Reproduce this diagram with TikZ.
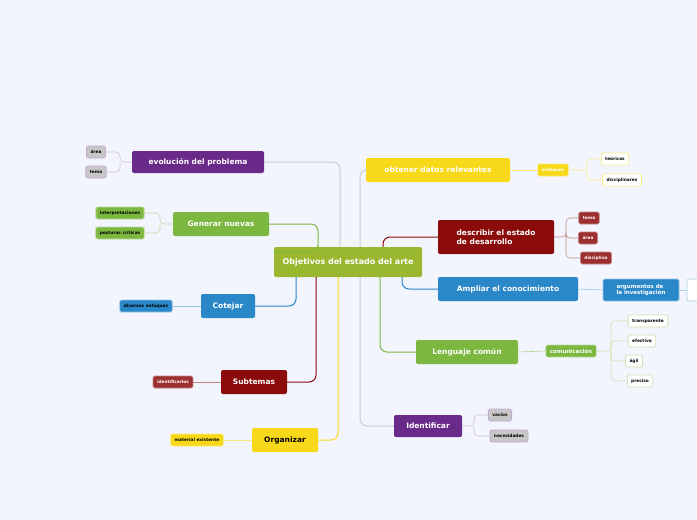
\documentclass[tikz,border=0pt]{standalone}
\usepackage{fontspec}
\setmainfont{DejaVu Sans}
\begin{document}
\begin{tikzpicture}[x=1pt,y=-1pt,
 main/.style={rounded corners=2pt,text=white,font=\bfseries\fontsize{7.5}{9}\selectfont,minimum height=24pt,inner xsep=6pt,drop shadow/.style={}},
 sm/.style={rounded corners=1.5pt,font=\bfseries\fontsize{4.3}{5}\selectfont,minimum height=12pt,inner xsep=4pt,line width=0.8pt},
 ln/.style={line width=1pt,rounded corners=7pt},
 lnt/.style={line width=0.6pt,rounded corners=4pt}]
\definecolor{bg}{HTML}{F2F5FE}
\definecolor{cyel}{HTML}{F8D91A}
\definecolor{cred}{HTML}{8B0A0A}
\definecolor{cblu}{HTML}{2A87C8}
\definecolor{cgrn}{HTML}{7CB740}
\definecolor{cpur}{HTML}{6A2A8A}
\definecolor{colv}{HTML}{9AB82F}
\fill[bg] (0,0) rectangle (697,520);
\useasboundingbox (0,0) rectangle (697,520);
% center
\node[fill=colv,rounded corners=2pt,text=white,font=\bfseries\fontsize{8}{9}\selectfont,minimum width=148pt,minimum height=30pt] (c) at (348,262) {Objetivos del estado del arte};
% right
\node[main,fill=cyel,minimum width=144pt] (obt) at (438,170) {obtener datos relevantes};
\node[sm,fill=cyel,text=white,draw=cyel!60] (enf) at (553,170) {enfoques};
\node[sm,fill=white,draw=cyel!50] (teo) at (615,159) {teóricos};
\node[sm,fill=white,draw=cyel!50] (dis) at (622,180) {disciplinares};
\node[main,fill=cred,minimum width=116pt,minimum height=34pt,align=left] (des) at (496,237) {describir el estado\\de desarrollo};
\node[sm,fill=cred!85,text=white,draw=cred!50] (t1) at (589,218) {tema};
\node[sm,fill=cred!85,text=white,draw=cred!50] (a1) at (588,238) {área};
\node[sm,fill=cred!85,text=white,draw=cred!50] (d1) at (596,258) {disciplina};
\node[main,fill=cblu,minimum width=140pt] (amp) at (508,289) {Ampliar el conocimiento};
\node[sm,fill=cblu,text=white,draw=cblu!50,minimum width=76pt,minimum height=22pt,align=left,font=\bfseries\fontsize{5.5}{6}\selectfont] (arg) at (641,290) {argumentos de\\la investigación};
\node[sm,fill=white,draw=cblu!40,minimum width=20pt,minimum height=22pt] (cut) at (697,290) {};
\node[main,fill=cgrn,minimum width=102pt] (len) at (467,352) {Lenguaje común};
\node[sm,fill=cgrn,text=white,draw=cgrn!50,font=\bfseries\fontsize{5.5}{6}\selectfont] (com) at (571,351) {comunicación};
\node[sm,fill=white,draw=cgrn!40] (tr) at (648,321) {transparente};
\node[sm,fill=white,draw=cgrn!40] (ef) at (642,341) {efectivo};
\node[sm,fill=white,draw=cgrn!40] (ag) at (634,361) {ágil};
\node[sm,fill=white,draw=cgrn!40] (pr) at (640,381) {preciso};
\node[main,fill=cpur,minimum width=68pt,minimum height=22pt] (ide) at (428,426) {Identificar};
\node[sm,fill=black!22,draw=cpur!40] (va) at (500,415) {vacíos};
\node[sm,fill=black!22,draw=cpur!40] (ne) at (509,436) {necesidades};
% left
\node[main,fill=cpur,minimum width=132pt,minimum height=22pt] (evo) at (198,162) {evolución del problema};
\node[sm,fill=black!22,draw=cpur!40] (ar) at (96,152) {área};
\node[sm,fill=black!22,draw=cpur!40] (te) at (96,172) {tema};
\node[main,fill=cgrn,minimum width=96pt] (gen) at (221,224) {Generar nuevas};
\node[sm,fill=cgrn,draw=cgrn!50] (in) at (120,213) {interpretaciones};
\node[sm,fill=cgrn,draw=cgrn!50] (po) at (120,233) {posturas críticas};
\node[main,fill=cblu,minimum width=54pt] (cot) at (228,306) {Cotejar};
\node[sm,fill=cblu,draw=cblu!50] (div) at (146,306) {diversos enfoques};
\node[main,fill=cred,minimum width=66pt] (sub) at (254,382) {Subtemas};
\node[sm,fill=cred!85,text=white,draw=cred!50] (idf) at (173,382) {identificarlos};
\node[main,fill=cyel,text=black,minimum width=66pt] (org) at (285,440) {Organizar};
\node[sm,fill=cyel,draw=cyel!60] (mat) at (197,440) {material existente};
% connectors center
\begin{scope}[on background layer/.style={}]
\end{scope}
\draw[ln,black!20] (c.north -| 340,0) |- (evo.east);
\draw[ln,black!20] (c.north -| 360,0) |- (obt.west);
\draw[ln,cgrn] (c.west) ++(0,-10) -| (318,240) |- (gen.east);
\draw[ln,cblu] (c.south -| 296,0) |- (cot.east);
\draw[ln,cred] (c.south -| 316,0) |- (sub.east);
\draw[ln,cyel] (c.south -| 338,0) |- (org.east);
\draw[ln,cred] (c.north -| 383,0) |- (des.west);
\draw[ln,cblu] (c.south -| 402,0) |- (amp.west);
\draw[ln,cgrn] (c.south -| 380,0) |- (len.west);
\draw[ln,black!20] (c.south -| 360,0) |- (ide.west);
% sub connectors
\draw[lnt,cyel!60] (obt.east) -- (enf.west);
\draw[lnt,cyel!50] (enf.east) -- (587,170) |- (teo.west); \draw[lnt,cyel!50] (587,170) |- (dis.west);
\draw[lnt,cred!50] (des.east) -- (566,237) |- (t1.west); \draw[lnt,cred!50] (566,237) |- (a1.west); \draw[lnt,cred!50] (566,237) |- (d1.west);
\draw[lnt,cblu!50] (amp.east) -- (arg.west);
\draw[lnt,cblu!40] (arg.east) -- (cut.west);
\draw[lnt,cgrn!60] (len.east) -- (com.west);
\draw[lnt,cgrn!40] (com.east) -- (611,351) |- (tr.west); \draw[lnt,cgrn!40] (611,351) |- (ef.west);
\draw[lnt,cgrn!40] (611,351) |- (ag.west); \draw[lnt,cgrn!40] (611,351) |- (pr.west);
\draw[lnt,cpur!30] (ide.east) -- (474,426) |- (va.west); \draw[lnt,cpur!30] (474,426) |- (ne.west);
\draw[lnt,cpur!30] (evo.west) -- (120,162) |- (ar.east); \draw[lnt,cpur!30] (120,162) |- (te.east);
\draw[lnt,cgrn!50] (gen.west) -- (160,224) |- (in.east); \draw[lnt,cgrn!50] (160,224) |- (po.east);
\draw[lnt,cblu!50] (cot.west) -- (div.east);
\draw[lnt,cred!50] (sub.west) -- (idf.east);
\draw[lnt,cyel!60] (org.west) -- (mat.east);
\end{tikzpicture}
\end{document}
